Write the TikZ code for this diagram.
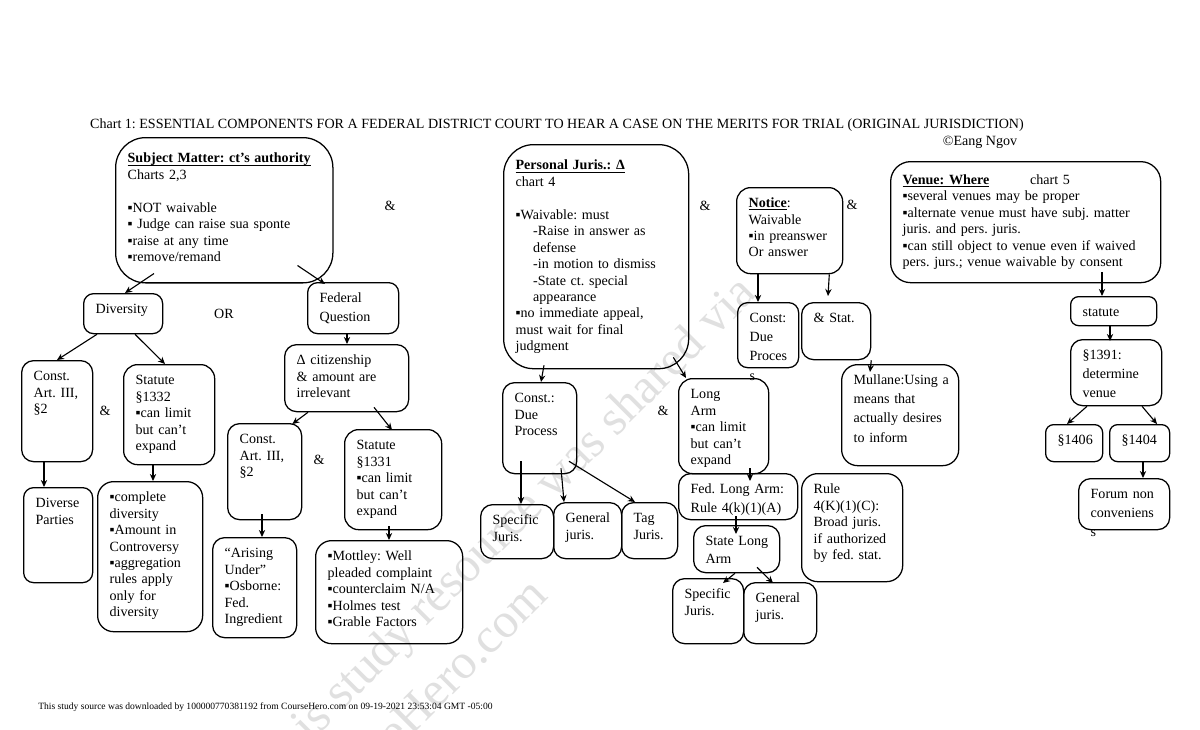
\documentclass[tikz,border=0pt]{standalone}
\usepackage{fontspec}
\setmainfont{Liberation Serif}
\usetikzlibrary{positioning,calc,arrows.meta}
\hyphenpenalty=10000
\exhyphenpenalty=10000
\frenchspacing
\newcommand{\ulhead}[1]{\underline{\smash{\textbf{#1}}}}

\begin{document}
\begin{tikzpicture}[x=0.025cm, y=-0.025cm,
    every node/.style={font=\fontsize{10}{11.7}\selectfont},
    card/.style={draw, line width=0.9pt, anchor=north west, align=left, inner xsep=0.3cm, inner ysep=0pt, text height=0.5cm, rounded corners=0.3cm},
    bigcard/.style={card, text height=0.63cm, rounded corners=0.75cm},
    wide/.style={font=\fontsize{10}{13.6}\selectfont},
    link/.style={-{Stealth[length=5pt,width=4.5pt]}, line width=0.8pt},
    joiner/.style={inner sep=0pt},
    wmark/.style={text=black!12, font=\fontsize{35}{35}\selectfont, rotate=45, inner sep=0pt}
]

\fill[white] (0,0) rectangle (1200,729);
\useasboundingbox (0,0) rectangle (1200,729);

% watermark
\node[wmark] (wmA) at (507,530) {This study resource was shared via};
\node[wmark] (wmB) at (420,705) {CourseHero.com};

% heading
\node[joiner] (title) at (557,125) {Chart 1: ESSENTIAL COMPONENTS FOR A FEDERAL DISTRICT COURT TO HEAR A CASE ON THE MERITS FOR TRIAL (ORIGINAL JURISDICTION)};
\node[joiner] (author) at (980,142) {©Eang Ngov};

% subject matter
\node[bigcard, text width=4.83cm, text depth=3.0cm] (sm) at (115,137)
  {\ulhead{Subject Matter: ct’s authority}\\Charts 2,3\\[11.7pt]▪NOT waivable\\▪ Judge can raise sua sponte\\▪raise at any time\\▪remove/remand};
\node[card, text width=1.375cm, text depth=0.5cm, rounded corners=0.25cm] (div) at (83,293) {Diversity};
\node[card, wide, text width=1.675cm, text depth=0.775cm, rounded corners=0.25cm] (fq) at (307,282) {Federal\\Question};
\node[card, text width=1.175cm, text depth=2.025cm] (cA) at (21,360) {Const.\\Art. III,\\§2};
\node[card, text width=1.675cm, text depth=2.0cm, rounded corners=0.35cm] (sA) at (123,364) {Statute\\§1332\\▪can limit\\but can’t\\expand};
\node[card, text width=1.125cm, text depth=1.875cm, rounded corners=0.25cm] (dp) at (23,487) {Diverse\\Parties};
\node[card, text width=2.025cm, text depth=3.25cm, rounded corners=0.4cm] (cd) at (97,481)
  {▪complete\\diversity\\▪Amount in\\Controversy\\▪aggregation\\rules apply\\only for\\diversity};
\node[card, text width=2.5cm, text depth=1.175cm] (dc) at (284,344) {Δ citizenship\\\& amount are\\irrelevant};
\node[card, text width=1.25cm, text depth=1.9cm] (cB) at (227,423) {Const.\\Art. III,\\§2};
\node[card, text width=1.825cm, text depth=2.0cm, rounded corners=0.35cm] (sB) at (344,429) {Statute\\§1331\\▪can limit\\but can’t\\expand};
\node[card, text width=1.5cm, text depth=2.0cm] (au) at (212,537) {“Arising\\Under”\\▪Osborne:\\Fed.\\Ingredient};
\node[card, text width=3.075cm, text depth=2.075cm, rounded corners=0.4cm] (mot) at (315,540)
  {▪Mottley: Well\\pleaded complaint\\▪counterclaim N/A\\▪Holmes test\\▪Grable Factors};

\node[joiner] (amp1) at (390,206) {\&};
\node[joiner] (amp2) at (105,411) {\&};
\node[joiner] (amp3) at (319,460) {\&};
\node[joiner] (orlabel) at (224,314) {OR};

% personal jurisdiction
\node[bigcard, text width=4.025cm, text depth=4.97cm] (pj) at (503,144)
  {\ulhead{Personal Juris.: Δ}\\chart 4\\[11.7pt]▪Waivable: must\\\hspace*{12.5pt}-Raise in answer as\\\hspace*{12.5pt}defense\\\hspace*{12.5pt}-in motion to dismiss\\\hspace*{12.5pt}-State ct. special\\\hspace*{12.5pt}appearance\\▪no immediate appeal,\\must wait for final\\judgment};
\node[card, text width=1.25cm, text depth=1.775cm] (pdp) at (502,382) {Const.:\\Due\\Process};
\node[card, text width=1.65cm, text depth=1.875cm, rounded corners=0.35cm] (la) at (678,378) {Long\\Arm\\▪can limit\\but can’t\\expand};
\node[card, text width=1.225cm, text depth=0.85cm] (sjA) at (480,504) {Specific\\Juris.};
\node[card, text width=1.1cm, text depth=0.9cm] (gjA) at (553,502) {General\\juris.};
\node[card, text width=0.8cm, text depth=0.9cm] (tag) at (621,502) {Tag\\Juris.};
\node[card, wide, text width=2.375cm, text depth=0.65cm] (fla) at (678,473) {\mbox{Fed. Long Arm:}\\\mbox{Rule 4(k)(1)(A)}};
\node[card, font=\fontsize{10}{12.8}\selectfont, text width=1.55cm, text depth=0.675cm] (sla) at (693,525) {\mbox{State Long}\\Arm};
\node[card, text width=1.925cm, text depth=2.2cm, rounded corners=0.4cm] (rc) at (801,473)
  {Rule\\4(K)(1)(C):\\Broad juris.\\\mbox{if authorized}\\by fed. stat.};
\node[card, text width=1.175cm, text depth=1.125cm] (sjB) at (672,578) {Specific\\Juris.};
\node[card, text width=1.225cm, text depth=1.025cm] (gjB) at (743,582) {General\\juris.};
\node[joiner] (amp4) at (705,206) {\&};
\node[joiner] (amp6) at (663,411) {\&};

% notice
\node[card, text width=2.05cm, text depth=1.65cm, rounded corners=0.35cm] (nt) at (736,187)
  {\ulhead{Notice}:\\Waivable\\▪in preanswer\\Or answer};
\node[card, wide, text width=0.925cm, text depth=1.125cm, rounded corners=0.25cm] (ndp) at (737,302) {Const:\\Due\\\mbox{Proces}\\s};
\node[card, text width=1.125cm, text depth=0.925cm] (st) at (801,302) {\& Stat.};
\node[card, wide, text width=2.325cm, text depth=2.025cm, rounded corners=0.4cm] (mul) at (841,364)
  {\mbox{Mullane:Using a}\\means that\\\mbox{actually desires}\\to inform};
\node[joiner] (amp5) at (852,205) {\&};

% venue
\node[card, text width=6.15cm, text height=0.57cm, text depth=2.455cm, rounded corners=0.5cm] (ven) at (890,161)
  {\ulhead{Venue: Where}\hspace{29pt}chart 5\\▪several venues may be proper\\\mbox{▪alternate venue must have subj. matter}\\juris. and pers. juris.\\\mbox{▪can still object to venue even if waived}\\\mbox{pers. jurs.; venue waivable by consent}};
\node[card, text width=1.55cm, text depth=0.225cm, rounded corners=0.2cm] (stt) at (1070,296) {statute};
\node[card, wide, text width=1.675cm, text depth=1.15cm] (sc) at (1070,339) {§1391:\\determine\\venue};
\node[card, text width=0.825cm, text depth=0.425cm, rounded corners=0.2cm] (sd) at (1045,424) {§1406};
\node[card, text width=0.9cm, text depth=0.425cm, rounded corners=0.2cm] (se) at (1109,424) {§1404};
\node[card, wide, text width=1.675cm, text depth=0.775cm] (fnc) at (1078,478) {Forum non\\conveniens\\s};

% connectors
\draw[link] ($(sm.south west)+(39,-10)$) -- ($(div.north west)+(42,0)$);
\draw[link] ($(sm.south east)+(-36,-18)$) -- ($(fq.north west)+(18,2)$);
\draw[link] ($(div.south west)+(14,0)$) -- ($(cA.north west)+(36,0)$);
\draw[link] ($(div.south west)+(52,0)$) -- ($(sA.north west)+(42,0)$);
\draw[link] ($(cA.south west)+(23,0)$) -- ($(dp.north west)+(21,0)$);
\draw[link] ($(sA.south west)+(30,0)$) -- ($(cd.north west)+(56,0)$);
\draw[link] ($(fq.south west)+(40,0)$) -- ($(dc.north west)+(63,0)$);
\draw[link] ($(dc.south west)+(24,0)$) -- ($(cB.north east)+(-10,1)$);
\draw[link] ($(dc.south west)+(90,-5)$) -- ($(sB.north west)+(48,1)$);
\draw[link] ($(cB.south west)+(35,-6)$) -- ($(au.north west)+(50,0)$);
\draw[link] ($(sB.south west)+(45,-4)$) -- ($(mot.north west)+(74,0)$);

\draw[link] ($(pj.south west)+(41,-4)$) -- ($(pdp.north west)+(39,0)$);
\draw[link] ($(pj.south east)+(-16,-12)$) -- ($(la.north west)+(8,0)$);
\draw[link] ($(pdp.south west)+(19,-13)$) -- ($(sjA.north west)+(41,0)$);
\draw[link] ($(pdp.south west)+(59,-6)$) -- ($(gjA.north west)+(11,0)$);
\draw[link] ($(pdp.south west)+(67,-13)$) -- ($(tag.north west)+(14,0)$);
\draw[link] ($(la.south west)+(72,-6)$) -- ($(fla.north west)+(72,8)$);
\draw[link] ($(fla.south west)+(58,-4)$) -- ($(sla.north west)+(43,9)$);
\draw[link] ($(sla.south west)+(42,0)$) -- ($(sjB.north west)+(51,5)$);
\draw[link] ($(sla.south west)+(64,-6)$) -- ($(gjB.north west)+(30,1)$);

\draw[link] ($(nt.south west)+(22,0)$) -- ($(ndp.north west)+(21,0)$);
\draw[link] ($(nt.south east)+(-14,0)$) -- ($(st.north west)+(27,-6)$);
\draw[link] (st.south east) -- ($(mul.north west)+(29,8)$);

\draw[link] ($(ven.south west)+(212,-11)$) -- ($(stt.north west)+(32,0)$);
\draw[link] ($(stt.south west)+(40,0)$) -- ($(sc.north west)+(40,2)$);
\draw[link] ($(sc.south west)+(17,0)$) -- ($(sd.north west)+(22,0)$);
\draw[link] ($(sc.south west)+(72,0)$) -- ($(se.north west)+(48,0)$);
\draw[link] ($(se.south west)+(34,0)$) -- ($(fnc.north west)+(65,0)$);

% footer
\node[joiner, anchor=west, font=\fontsize{6.8}{8}\selectfont] (footer) at (38,707)
  {This study source was downloaded by 100000770381192 from CourseHero.com on 09-19-2021 23:53:04 GMT -05:00};

\end{tikzpicture}
\end{document}
